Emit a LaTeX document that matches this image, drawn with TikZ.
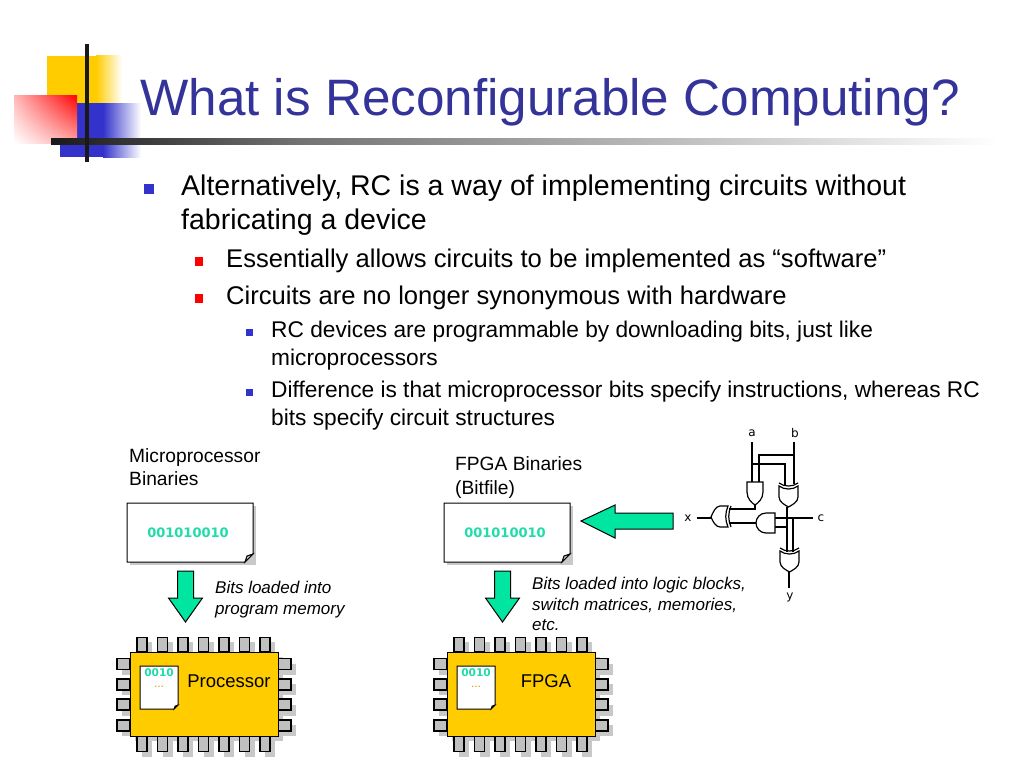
\documentclass[tikz,border=0pt]{standalone}
\usepackage{fontspec}
\usetikzlibrary{shadings}
\setmainfont{Liberation Sans}
\newfontfamily\vbfont{DejaVu Sans}
\definecolor{titleblue}{HTML}{333399}
\definecolor{logoyellow}{HTML}{FFCC00}
\definecolor{logoblue}{HTML}{3333CC}
\definecolor{bitgreen}{HTML}{1FDCA8}
\definecolor{arrowgreen}{HTML}{00E6A0}
\definecolor{shadowgray}{HTML}{C8C8C8}
\definecolor{pingray}{HTML}{C0C0C0}
\tikzset{
  px/.style={x=1pt,y=-1pt},
  titletext/.style={anchor=base west,inner sep=0pt,text=titleblue,font=\fontsize{51.2}{55}\selectfont},
  lone/.style={anchor=base west,inner sep=0pt,font=\fontsize{28.5}{30}\selectfont},
  ltwo/.style={anchor=base west,inner sep=0pt,font=\fontsize{25.6}{28}\selectfont},
  lthree/.style={anchor=base west,inner sep=0pt,font=\fontsize{22.7}{26}\selectfont},
  captext/.style={anchor=base west,inner sep=0pt,font=\fontsize{19.2}{22}\selectfont},
  notetext/.style={anchor=base west,inner sep=0pt,font=\fontsize{17}{20}\selectfont\itshape},
  sig/.style={inner sep=0pt,font=\vbfont\fontsize{12}{13}\selectfont},
  bits/.style={inner sep=0pt,text=bitgreen,font=\vbfont\bfseries\fontsize{13}{15}\selectfont},
  wire/.style={line width=1.1pt,draw=black},
  gate/.style={line width=1.2pt,draw=black,fill=white},
  blockarrow/.style={draw=black,line width=1pt,fill=arrowgreen},
  pinbox/.style={draw=black,line width=1.7pt,fill=pingray},
  pinshadow/.style={fill=shadowgray},
}
\newcommand{\bigdoc}[2]{%
  \begin{scope}[shift={(#1,503)}]
    \fill[fill=shadowgray] (3,3) rectangle (129,62);
    \draw[line width=1pt,fill=white] (0,0) -- (126,0) -- (126,51) -- (118,59) -- (0,59) -- cycle;
    \draw[line width=1pt,fill=shadowgray] (118,59) -- (120,53) -- (126,51) -- cycle;
    \node[bits] (#2) at (61,30) {001010010};
  \end{scope}}
\newcommand{\chip}[3]{%
  \begin{scope}[shift={(#1,0)}]
    \foreach \i in {0,...,6} {
      \fill[pinshadow] ({7+20.5*\i+5},642) rectangle ({17+20.5*\i+5},657);
      \fill[pinshadow] ({7+20.5*\i+5},741) rectangle ({17+20.5*\i+5},757);
    }
    \foreach \i in {0,...,3} {
      \fill[pinshadow] (-8,{659+20.4*\i+5}) rectangle (5,{670+20.4*\i+5});
      \fill[pinshadow] (153,{659+20.4*\i+5}) rectangle (166,{670+20.4*\i+5});
    }
    \fill[pinshadow] (5,657) rectangle (153,741);
    \foreach \i in {0,...,6} {
      \draw[pinbox] ({7+20.5*\i},637.5) rectangle ({17+20.5*\i},652);
      \draw[pinbox] ({7+20.5*\i},736) rectangle ({17+20.5*\i},751.5);
    }
    \foreach \i in {0,...,3} {
      \draw[pinbox] (-13,{658.5+20.4*\i}) rectangle (0,{669.5+20.4*\i});
      \draw[pinbox] (148,{658.5+20.4*\i}) rectangle (161,{669.5+20.4*\i});
    }
    \node[draw=black,line width=1.4pt,fill=logoyellow,anchor=north west,minimum width=148pt,minimum height=84pt,inner sep=0pt] (#2body) at (0,652) {};
    \draw[line width=1pt,fill=white] (10,666) -- (48,666) -- (48,705) -- (44,709) -- (10,709) -- cycle;
    \draw[line width=.8pt,fill=shadowgray] (44,709) -- (45,706) -- (48,705) -- cycle;
    \node[inner sep=0pt,text=bitgreen,font=\vbfont\bfseries\fontsize{10.6}{12}\selectfont] (#2bits) at (29,673) {0010};
    \node[inner sep=0pt,text=logoyellow!80!black,font=\fontsize{12}{12}\selectfont] (#2dots) at (29,687) {...};
    \node[inner sep=0pt,font=\fontsize{18.5}{22}\selectfont] (#2label) at (#3,681) {#2};
  \end{scope}}
\newcommand{\downarrowblock}[1]{%
  \draw[blockarrow] (#1-8,571) -- (#1+8,571) -- (#1+8,598) -- (#1+17,598) -- (#1,622) -- (#1-17,598) -- (#1-8,598) -- cycle;}
\newcommand{\xorgate}[1]{%
  \begin{scope}[shift={(#1)}]
    \draw[gate] (0,3) .. controls (5,7) and (14,7) .. (19,3) -- (19,14) .. controls (19,19) and (13,22) .. (9.5,24) .. controls (6,22) and (0,19) .. (0,14) -- cycle;
    \draw[gate,fill=none] (0,0) .. controls (5,4) and (14,4) .. (19,0);
  \end{scope}}
\begin{document}
\begin{tikzpicture}[px]
\useasboundingbox (0,0) rectangle (1024,768);
\fill[white] (0,0) rectangle (1024,768);
% logo
\fill[logoyellow] (47,56) rectangle (96,103);
\shade[left color=logoyellow,right color=white] (96,56) rectangle (122,103);
\fill[logoblue] (60,103) rectangle (103,157);
\shade[left color=logoblue,right color=white] (103,103) rectangle (141,157);
\shade[lower left=white,upper right=red,upper left=red!28,lower right=red!35] (14,95) rectangle (77,143);
\shade[left color=black!90,right color=black!55] (51,138.5) rectangle (300,144);
\shade[left color=black!55,right color=white] (300,138.5) rectangle (1000,144);
\fill[black!90] (85,44) rectangle (89,162);
% title and body
\node[titletext] (title) at (140,115) {What is Reconfigurable Computing?};
\fill[logoblue] (144,184) rectangle (154,194);
\node[lone] (t1) at (181,195) {Alternatively, RC is a way of implementing circuits without};
\node[lone] (t1b) at (181,229) {fabricating a device};
\fill[red] (195,257) rectangle (203,266);
\node[ltwo] (t2) at (226,267) {Essentially allows circuits to be implemented as “software”};
\fill[red] (195,294) rectangle (203,303);
\node[ltwo] (t3) at (226,304) {Circuits are no longer synonymous with hardware};
\fill[logoblue] (246,329) rectangle (253,336);
\node[lthree] (t4) at (271,337) {RC devices are programmable by downloading bits, just like};
\node[lthree] (t4b) at (271,365) {microprocessors};
\fill[logoblue] (246,389) rectangle (253,396);
\node[lthree] (t5) at (271,397) {Difference is that microprocessor bits specify instructions, whereas RC};
\node[lthree] (t5b) at (271,425) {bits specify circuit structures};
% captions
\node[captext] (c1) at (129,462) {Microprocessor};
\node[captext] (c1b) at (129,485) {Binaries};
\node[captext] (c2) at (455,470) {FPGA Binaries};
\node[captext] (c2b) at (455,494) {(Bitfile)};
% documents
\bigdoc{127}{bitsa}
\bigdoc{444}{bitsb}
% arrows
\downarrowblock{185.5}
\downarrowblock{502.5}
\draw[blockarrow] (673,513) -- (615,513) -- (615,505) -- (581,521) -- (615,538) -- (615,529) -- (673,529) -- cycle;
% notes
\node[notetext] (n1) at (215,593) {Bits loaded into};
\node[notetext] (n1b) at (215,614) {program memory};
\node[notetext] (n2) at (532,589) {Bits loaded into logic blocks,};
\node[notetext] (n2b) at (532,610) {switch matrices, memories,};
\node[notetext] (n2c) at (532,630) {etc.};
% chips
\chip{130}{Processor}{99}
\chip{447}{FPGA}{99}
% circuit
\node[sig] (a) at (752,433) {a};
\node[sig] (b) at (795,433) {b};
\node[sig] (x) at (688,518) {x};
\node[sig] (c) at (821,518) {c};
\node[sig] (y) at (790,597) {y};
\coordinate (aw) at (752,442);
\coordinate (bw) at (794,442);
\draw[wire] (aw) -- (752,482);
\draw[wire] (bw) -- (794,484);
\draw[wire] (794,455) -- (759,455) -- (759,482);
\draw[wire] (752,464) -- (785,464) -- (785,486);
\draw[wire] (755,505) -- (755,509) -- (729,509);
\draw[wire] (756,523) -- (729,523);
\draw[wire] (697,518) -- (711,518);
\draw[wire] (775,518) -- (813,518);
\draw[wire] (775,527) -- (787,527);
\draw[wire] (787,507) -- (787,552);
\draw[wire] (793,518) -- (793,552);
\draw[wire] (789,572) -- (789,588);
\draw[gate] (747,482) -- (763,482) -- (763,492) .. controls (763,499) and (758,503) .. (755,505) .. controls (752,503) and (747,499) .. (747,492) -- cycle;
\xorgate{779,483}
\xorgate{780,548}
\draw[gate] (728,506) -- (720,506) .. controls (716,506) and (713,512) .. (711,517) .. controls (713,522) and (716,527) .. (720,527) -- (728,527) .. controls (725,520) and (725,513) .. (728,506) -- cycle;
\draw[gate,fill=none] (731,506) .. controls (728,513) and (728,520) .. (731,527);
\draw[gate] (775,513) -- (766,513) .. controls (760,513) and (756,518) .. (756,523) .. controls (756,528) and (760,533) .. (766,533) -- (775,533) -- cycle;
\end{tikzpicture}
\end{document}
